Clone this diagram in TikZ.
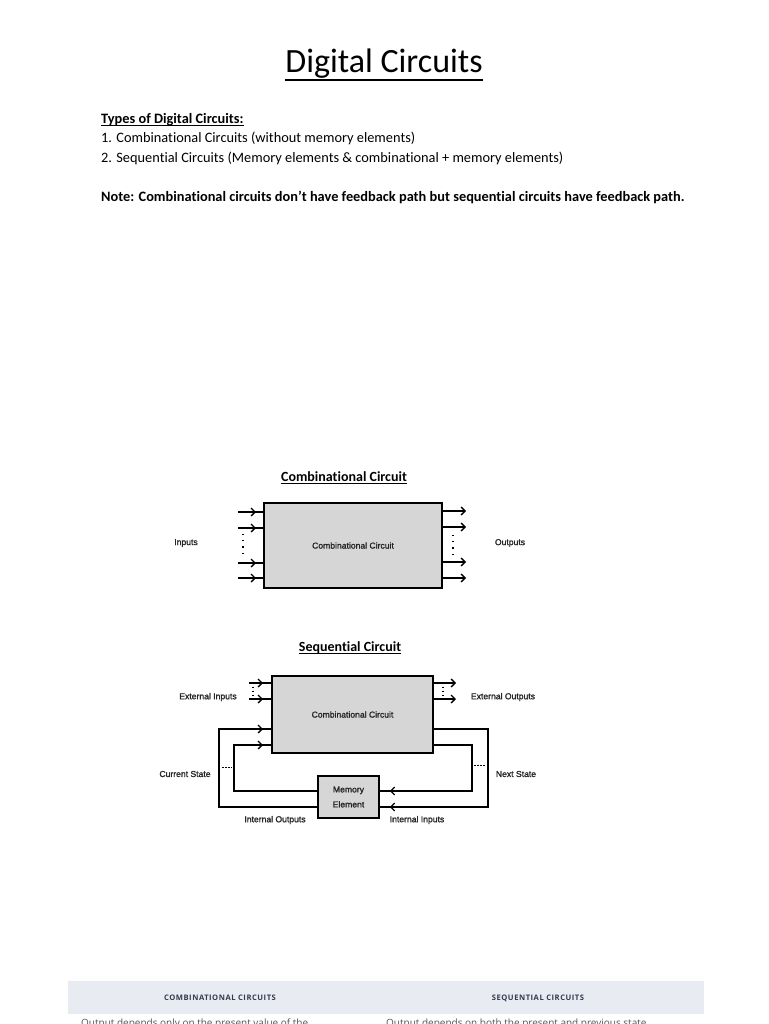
\documentclass[tikz,border=0pt]{standalone}
\usepackage{fontspec}
\setmainfont{Carlito}[Ligatures=CommonOff]
\newfontface\arialf{Liberation Sans}[FakeBold=1.5]
\newfontfamily\opensans{Open Sans}
\newfontfamily\opensanshead{Open Sans}[LetterSpace=7]
\usetikzlibrary{arrows.meta,decorations.markings}
\definecolor{boxgray}{HTML}{D6D6D6}
\definecolor{bandcol}{HTML}{E9EBF3}
\definecolor{headcol}{HTML}{333A4D}
\definecolor{bodycol}{HTML}{555555}
\begin{document}
\begin{tikzpicture}[x=1pt,y=-1pt,
  txt/.style={inner sep=0pt, anchor=base west, font=\fontsize{14.35}{17}\selectfont},
  sectitle/.style={inner sep=0pt, anchor=base, font=\fontsize{14}{17}\selectfont\bfseries},
  lbl/.style={inner sep=0pt, font=\arialf\fontsize{8.6}{15}\selectfont, text=black!85},
  blk/.style={draw, line width=2pt, fill=boxgray, inner sep=0pt, font=\arialf\fontsize{8.6}{15}\selectfont, text=black!85, align=center},
  wire/.style={line width=1.3pt},
  tipend/.style={-{Straight Barb[length=4pt,width=8pt]}},
  midtip/.style={postaction={decorate},decoration={markings,mark=at position #1 with {\arrow{Straight Barb[length=4pt,width=8pt]}}}},
  dotline/.style={line width=1.2pt, dash pattern=on 1.2pt off 5pt},
  head/.style={inner sep=0pt, font=\opensanshead\bfseries\fontsize{7.6}{9}\selectfont, text=headcol},
  body/.style={inner sep=0pt, anchor=base west, font=\opensans\fontsize{10}{12}\selectfont, text=bodycol},
]
\useasboundingbox (0,0) rectangle (768,1024);
\clip (0,0) rectangle (768,1024);
\fill[white] (0,0) rectangle (768,1024);

% ---------- title and text ----------
\node[inner sep=0pt, anchor=base, font=\fontsize{34}{40}\selectfont] (title) at (384,73) {Digital Circuits};
\draw[line width=1.8pt] ([yshift=-7pt]title.base west) -- ([yshift=-7pt]title.base east);

\node[txt, font=\fontsize{14.35}{17}\selectfont\bfseries] (types) at (101,123.5) {Types of Digital Circuits:};
\draw[line width=1pt] ([yshift=-2.2pt]types.base west) -- ([yshift=-2.2pt]types.base east);
\node[txt] (t1) at (101,143) {1. Combinational Circuits (without memory elements)};
\node[txt] (t2) at (101,163) {2. Sequential Circuits (Memory elements \& combinational + memory elements)};
\node[txt, font=\fontsize{14.35}{17}\selectfont\bfseries] (note) at (101,202) {Note: Combinational circuits don’t have feedback path but sequential circuits have feedback path.};

% ---------- combinational circuit ----------
\node[sectitle] (ctitle) at (344,481.5) {Combinational Circuit};
\draw[line width=1pt] ([yshift=-2.2pt]ctitle.base west) -- ([yshift=-2.2pt]ctitle.base east);

\node[blk, minimum width=178pt, minimum height=85pt] (cb) at (353,545.5) {Combinational Circuit};

\coordinate (in1) at (238,512);
\coordinate (in2) at (238,528);
\coordinate (in3) at (238,563);
\coordinate (in4) at (238,578);
\foreach \c in {in1,in2,in3,in4}
  \draw[wire, midtip=-7pt] (\c) -- (\c -| cb.west);

\coordinate (out1) at (466,511);
\coordinate (out2) at (466,527);
\coordinate (out3) at (466,562);
\coordinate (out4) at (466,578);
\foreach \c in {out1,out2,out3,out4}
  \draw[wire, tipend] (cb.east |- \c) -- (\c);

\coordinate (cdi1) at (243,534);
\coordinate (cdi2) at (243,558);
\draw[dotline] (cdi1) -- (cdi2);
\coordinate (cdo1) at (453,535);
\coordinate (cdo2) at (453,559);
\draw[dotline] (cdo1) -- (cdo2);

\node[lbl] (inlbl) at (186,543) {Inputs};
\node[lbl] (outlbl) at (510,543) {Outputs};

% ---------- sequential circuit ----------
\node[sectitle] (stitle) at (350,651) {Sequential Circuit};
\draw[line width=1pt] ([yshift=-2.5pt]stitle.base west) -- ([yshift=-2.5pt]stitle.base east);

\node[blk, minimum width=161pt, minimum height=77pt] (sc) at (352.5,714.5) {Combinational Circuit};
\node[blk, line width=1.6pt, minimum width=61pt, minimum height=42pt] (mem) at (348.5,797) {Memory\\Element};

\coordinate (ei1) at (249,683);
\coordinate (ei2) at (249,699);
\foreach \c in {ei1,ei2}
  \draw[wire, midtip=-8pt] (\c) -- (\c -| sc.west);
\coordinate (eo1) at (456,683);
\coordinate (eo2) at (456,699);
\foreach \c in {eo1,eo2}
  \draw[wire, tipend] (sc.east |- \c) -- (\c);
\draw[dotline, dash pattern=on 1.2pt off 3pt] (253,686.5) -- (253,696);
\draw[dotline, dash pattern=on 1.2pt off 3pt] (443,686.5) -- (443,696);

% feedback loops
\coordinate (L1) at (219,729);
\coordinate (L1b) at (219,807);
\coordinate (L2) at (234,745);
\coordinate (L2b) at (234,791);
\coordinate (R1) at (488,729);
\coordinate (R1b) at (488,807);
\coordinate (R2) at (472,745);
\coordinate (R2b) at (472,791);

\draw[wire, midtip=-8pt] (mem.west |- L1b) -- (L1b) -- (L1) -- (sc.west |- L1);
\draw[wire, midtip=-8pt] (mem.west |- L2b) -- (L2b) -- (L2) -- (sc.west |- L2);
\draw[wire, midtip=-10pt] (sc.east |- R1) -- (R1) -- (R1b) -- (mem.east |- R1b);
\draw[wire, midtip=-10pt] (sc.east |- R2) -- (R2) -- (R2b) -- (mem.east |- R2b);

\coordinate (csd1) at (222,767);
\coordinate (csd2) at (232,767);
\draw[line width=0.8pt, dash pattern=on 1.5pt off 1.5pt] (csd1) -- (csd2);
\coordinate (nsd1) at (474,765);
\coordinate (nsd2) at (486,765);
\draw[line width=0.8pt, dash pattern=on 1.5pt off 1.5pt] (nsd1) -- (nsd2);

\node[lbl] (extin) at (208,697) {External Inputs};
\node[lbl] (extout) at (503,697) {External Outputs};
\node[lbl] (curst) at (185,774) {Current State};
\node[lbl] (nextst) at (516,774) {Next State};
\node[lbl] (intout) at (275,820) {Internal Outputs};
\node[lbl] (intin) at (417,820) {Internal Inputs};

% ---------- table header ----------
\fill[bandcol] (68,981) rectangle (704,1014);
\node[head] (h1) at (220,998) {COMBINATIONAL CIRCUITS};
\node[head] (h2) at (538,998) {SEQUENTIAL CIRCUITS};
\node[body] (b1) at (81,1026.5) {Output depends only on the present value of the};
\node[body] (b2) at (386,1026.5) {Output depends on both the present and previous state};
\end{tikzpicture}
\end{document}
